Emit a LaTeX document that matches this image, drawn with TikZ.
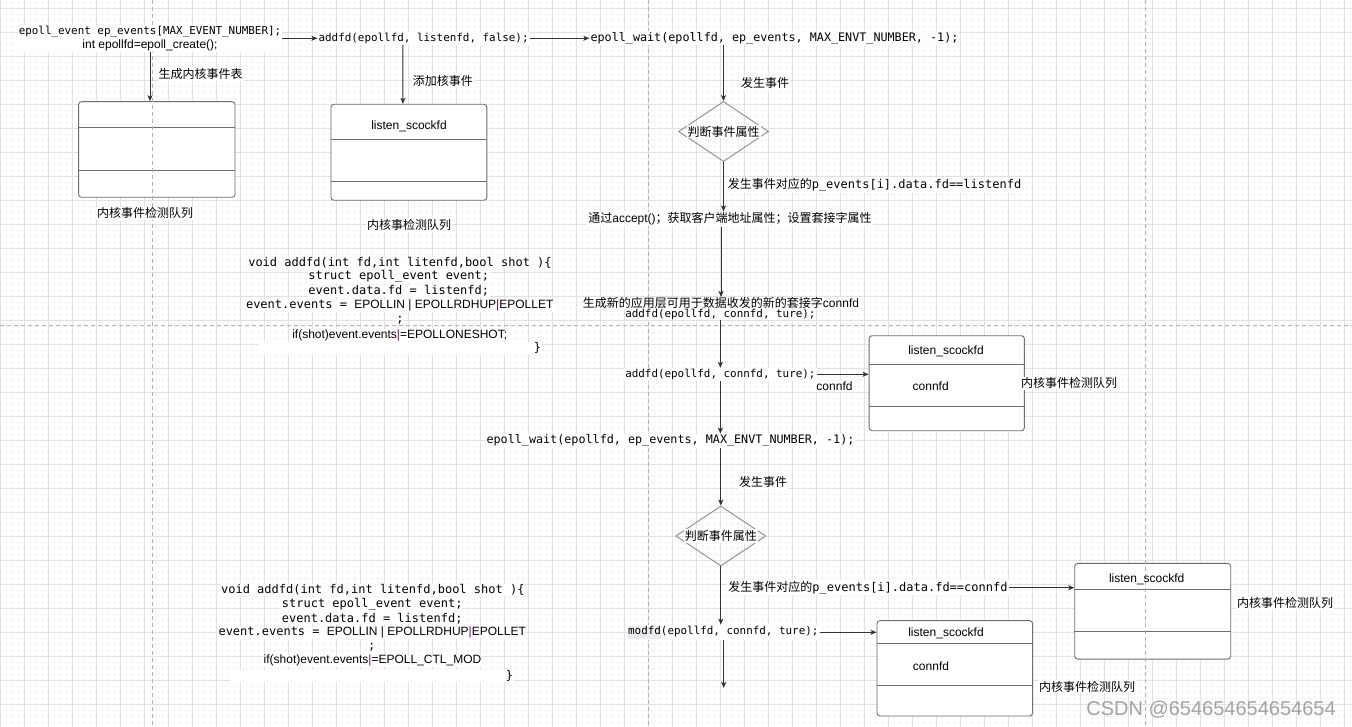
\documentclass[tikz,border=0pt]{standalone}
\usepackage{fontspec}
\setmainfont{Liberation Sans}
\setmonofont{DejaVu Sans Mono}
\newfontfamily\cjk{Noto Sans CJK SC}
\usepackage{xcolor}
\definecolor{sheet-grid}{HTML}{E2E2E2}
\definecolor{sheet-subgrid}{HTML}{F7F7F7}
\definecolor{sheet-break}{HTML}{B2B2B2}
\definecolor{queue-edge}{HTML}{6E6E6E}
\definecolor{decide-edge}{HTML}{8C8C8C}
\definecolor{arrow-line}{HTML}{333333}
\definecolor{code-purple}{HTML}{800080}
\definecolor{code-mark}{HTML}{E9EBEE}
\definecolor{watermark}{HTML}{A3A3A3}
\usetikzlibrary{arrows.meta, shapes.geometric}

\tikzset{
    lbl/.style={fill=white, inner sep=1pt, font=\fontsize{12}{14}\selectfont},
    boxtext/.style={inner sep=1pt, font=\fontsize{12}{14}\selectfont},
    cmd/.style={fill=white, inner sep=1pt, font=\fontsize{10.9}{13}\ttfamily},
    waitcmd/.style={fill=white, inner sep=1pt, font=\fontsize{11.75}{14}\ttfamily},
    codeline/.style={fill=white, inner sep=0.5pt, font=\fontsize{12}{14}\ttfamily},
    queue/.style={draw=queue-edge, fill=white, line width=0.9pt, rounded corners=3pt},
    divider/.style={draw=queue-edge, line width=0.9pt},
    decide/.style={diamond, draw=decide-edge, line width=0.9pt, aspect=1.5,
                   minimum width=90pt, minimum height=60pt, inner sep=0pt},
    arr/.style={draw=arrow-line, line width=0.9pt, -{Stealth[length=6pt, width=5pt, inset=1.5pt]}},
    pagebreak/.style={draw=sheet-break, line width=0.8pt, dash pattern=on 4pt off 3pt},
}

\begin{document}
\begin{tikzpicture}[x=1pt, y=-1pt]

    % Background
    \useasboundingbox (0,0) rectangle (1352,727);
    \fill[white] (0,0) rectangle (1352,727);

    % Grid
    \foreach \i in {0,...,225} \draw[sheet-subgrid, line width=0.6pt] (0.7+6*\i,0) -- (0.7+6*\i,727);
    \foreach \i in {0,...,121} \draw[sheet-subgrid, line width=0.6pt] (0,2.3+6*\i) -- (1352,2.3+6*\i);
    \foreach \i in {0,...,56} \draw[sheet-grid, line width=0.8pt] (0.7+24*\i,0) -- (0.7+24*\i,727);
    \foreach \i in {0,...,30} \draw[sheet-grid, line width=0.8pt] (0,8.3+24*\i) -- (1352,8.3+24*\i);

    % Queues
    \node[queue, minimum width=156.4pt, minimum height=95.6pt] (kq1) at (156.8,149.5) {};
    \node[queue, minimum width=155.8pt, minimum height=96pt] (kq2) at (408.9,152.3) {};
    \node[queue, minimum width=155.3pt, minimum height=95pt] (kq3) at (946.7,383.2) {};
    \node[queue, minimum width=156pt, minimum height=95.7pt] (kq4) at (1152.7,611.2) {};
    \node[queue, minimum width=155.6pt, minimum height=95.3pt] (kq5) at (954.8,668.3) {};
    \foreach \b/\p/\q in {kq1/26.6/69, kq2/36/78, kq3/29.3/71.6, kq4/27/69, kq5/23.6/65.6} {
        \draw[divider] ([yshift=-\p pt]\b.north west) -- ([yshift=-\p pt]\b.north east);
        \draw[divider] ([yshift=-\q pt]\b.north west) -- ([yshift=-\q pt]\b.north east);
    }

    % Decisions
    \node[decide] (decide1) at (723.5,131.5) {};
    \node[decide] (decide2) at (720.8,536) {};

    % Page breaks
    \foreach \x in {152.3, 648.5, 1145.3} \draw[pagebreak] (\x,0) -- (\x,727);
    \draw[pagebreak] (0,325.7) -- (1352,325.7);

    % Top row
    \node[lbl, align=center] (init) at (150,38.7)
        {{\fontsize{10.9}{14}\ttfamily epoll\_event ep\_events[MAX\_EVENT\_NUMBER];}\\int epollfd=epoll\_create();};
    \node[cmd] (addfd1) at (423.6,38.3) {addfd(epollfd, listenfd, false);};
    \node[waitcmd] (wait1) at (774.5,38.3) {epoll\_wait(epollfd, ep\_events, MAX\_ENVT\_NUMBER, -1);};

    % Queue texts
    \node[lbl] (mk1) at (200.5,74) {\cjk 生成内核事件表};
    \node[lbl] (add1) at (442.8,80.7) {\cjk 添加核事件};
    \node[lbl] (q1lbl) at (145,213.3) {\cjk 内核事件检测队列};
    \node[lbl] (q2lbl) at (409,225) {\cjk 内核事检测队列};
    \node[boxtext] (kq2head) at (409,126.7) {listen\_scockfd};
    \node[boxtext] (kq3head) at (946,351) {listen\_scockfd};
    \node[boxtext] (kq3conn) at (930.7,386.7) {connfd};
    \node[boxtext] (kq4head) at (1146.7,579) {listen\_scockfd};
    \node[boxtext] (kq5head) at (946,633) {listen\_scockfd};
    \node[boxtext] (kq5conn) at (931,666) {connfd};
    \node[lbl] (q3lbl) at (1069,383.3) {\cjk 内核事件检测队列};
    \node[lbl] (q4lbl) at (1285,603.3) {\cjk 内核事件检测队列};
    \node[lbl] (q5lbl) at (1087,686.7) {\cjk 内核事件检测队列};

    % Main flow
    \node[lbl] (happen1) at (765,83) {\cjk 发生事件};
    \node[lbl] (judge1) at (decide1) {\cjk 判断事件属性};
    \node[lbl] (fdlisten) at (874.5,185.3)
        {{\cjk 发生事件对应的}\texttt{p\_events[i].data.fd==listenfd}};
    \node[lbl] (accept) at (730,219)
        {{\cjk 通过}accept(){\cjk ；获取客户端地址属性；设置套接字属性}};
    \node[lbl, inner sep=0.5pt] (newsock) at (721,303.3)
        {{\cjk 生成新的应用层可用于数据收发的新的套接字}connfd};
    \node[cmd, inner sep=0.5pt] (addfd2) at (720.4,314.3) {addfd(epollfd, connfd, ture);};
    \node[cmd] (addfd3) at (720.4,374.3) {addfd(epollfd, connfd, ture);};
    \node[lbl] (connlbl) at (834.5,386.7) {connfd};
    \node[waitcmd] (wait2) at (670.5,440.7) {epoll\_wait(epollfd, ep\_events, MAX\_ENVT\_NUMBER, -1);};
    \node[lbl] (happen2) at (763,482.3) {\cjk 发生事件};
    \node[lbl] (judge2) at (decide2) {\cjk 判断事件属性};
    \node[lbl] (fdconn) at (868,587.7)
        {{\cjk 发生事件对应的}\texttt{p\_events[i].data.fd==connfd}};
    \node[cmd] (modfd) at (723.3,632.3)
        {{\setlength{\fboxsep}{0pt}\colorbox{code-mark}{\strut modfd}}(epollfd, connfd, ture);};
    \coordinate (tail) at (723.7,688);

    % addfd code (listen)
    \node[codeline] (sig1) at (400,262.7) {void addfd(int fd,int litenfd,bool shot )\{};
    \node[codeline] (decl1) at (398.8,276.7) {struct epoll\_event event;};
    \node[codeline] (data1) at (398.8,290.7) {event.data.fd = listenfd;};
    \node[codeline] (evts1) at (399.7,305.7)
        {event.events = {\rmfamily EPOLLIN | EPOLLRDHUP{\color{code-purple}|}EPOLLET}};
    \node[codeline] (semi1) at (400,320) {;};
    \node[codeline, font=\fontsize{12}{14}\selectfont] (shot1) at (399.7,335)
        {if(shot)event.events{\color{code-purple}|}=EPOLLONESHOT;};
    \node[codeline, text width=283pt, align=right] (close1) at (399.5,348.3) {\}};

    % addfd code (mod)
    \node[codeline] (sig2) at (372.8,590) {void addfd(int fd,int litenfd,bool shot )\{};
    \node[codeline] (decl2) at (372.2,604) {struct epoll\_event event;};
    \node[codeline] (data2) at (372.2,618.3) {event.data.fd = listenfd;};
    \node[codeline] (evts2) at (372.2,632.7)
        {event.events = {\rmfamily EPOLLIN | EPOLLRDHUP{\color{code-purple}|}EPOLLET}};
    \node[codeline] (semi2) at (371.7,647.3) {;};
    \node[codeline, font=\fontsize{12}{14}\selectfont] (shot2) at (372.5,660.7)
        {if(shot)event.events{\color{code-purple}|}=EPOLL\_CTL\_MOD};
    \node[codeline, text width=283pt, align=right] (close2) at (371.5,676) {\}};

    % Connectors
    \draw[arr] (init.east |- addfd1.west) -- (addfd1.west);
    \draw[arr] (addfd1.east) -- (wait1.west);
    \draw[arr] (init.south) -- (init.south |- kq1.north);
    \draw[arr] ([xshift=-20.7pt]addfd1.south) -- ([xshift=-6pt]kq2.north);
    \draw[arr] (wait1.south -| decide1.north) -- (decide1.north);
    \draw[arr] (decide1.south) -- (decide1.south |- accept.north);
    \draw[arr] (newsock.north |- accept.south) -- (newsock.north);
    \draw[arr] (addfd2.south) -- (addfd3.north);
    \draw[arr] (addfd3.east) -- (addfd3.east -| kq3.west);
    \draw[arr] (addfd3.south) -- (addfd3.south |- wait2.north);
    \draw[arr] (wait2.south -| decide2.north) -- (decide2.north);
    \draw[arr] (decide2.south) -- (decide2.south |- modfd.north);
    \draw[arr] (fdconn.east) -- (fdconn.east -| kq4.west);
    \draw[arr] (modfd.east) -- (modfd.east -| kq5.west);
    \draw[arr] (modfd.south -| tail) -- (tail);

    % Watermark
    \node[text=watermark, font=\fontsize{20}{22}\selectfont, inner sep=0pt] (mark) at (1211,710)
        {CSDN @654654654654654};

\end{tikzpicture}
\end{document}
